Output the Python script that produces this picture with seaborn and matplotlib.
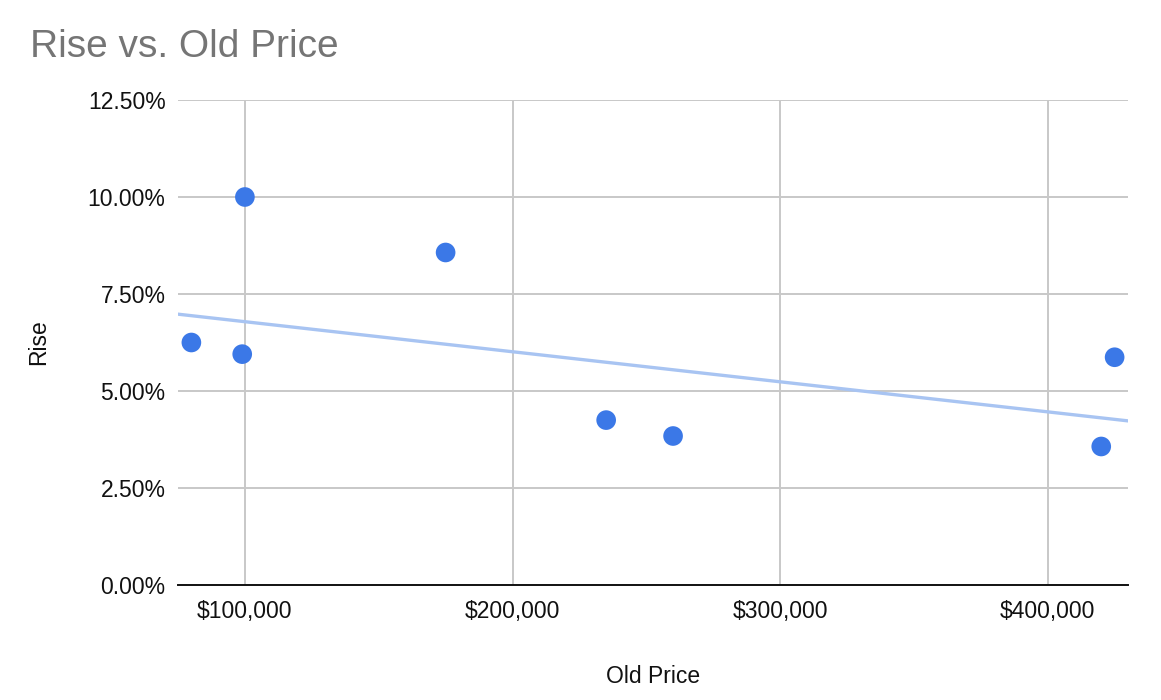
import seaborn as sns
import matplotlib.pyplot as plt
import matplotlib.ticker as mticker
import pandas as pd

# Datos
old_price = [80000, 100000, 99000, 175000, 235000, 260000, 420000, 425000]
rise = [6.25, 10.0, 5.95, 8.57, 4.25, 3.84, 3.57, 5.87]

# linea de tendencia (extremos)
trend_price = [75000, 430000]
trend_rise = [6.98, 4.23]

x_ticks = [100000, 200000, 300000, 400000]
y_ticks = [0, 2.5, 5.0, 7.5, 10.0, 12.5]

df = pd.DataFrame({'Old Price': old_price, 'Rise': rise})
trend = pd.DataFrame({'Old Price': trend_price, 'Rise': trend_rise})

sns.set_style('white')
plt.rcParams['font.family'] = ['Liberation Sans', 'DejaVu Sans']

fig = plt.figure(figsize=(11.61, 7.0), dpi=100)
ax = fig.add_axes([178 / 1161, 1 - 585 / 700, (1128 - 178) / 1161, (585 - 100) / 700])

sns.lineplot(x='Old Price', y='Rise', data=trend, ax=ax, color='#a8c4f2', linewidth=2.4, zorder=2)
sns.scatterplot(x='Old Price', y='Rise', data=df, ax=ax, color='#3b78e7', s=200,
                edgecolor='none', zorder=3)

ax.set_xlim(75000, 430000)
ax.set_ylim(0, 12.5)
ax.set_xticks(x_ticks)
ax.set_yticks(y_ticks)
ax.xaxis.set_major_formatter(mticker.FuncFormatter(lambda v, p: f"${v:,.0f}"))
ax.yaxis.set_major_formatter(mticker.FuncFormatter(lambda v, p: f"{v:.2f}%"))
ax.tick_params(axis='both', length=0, labelsize=16.5, labelcolor='#111111')
ax.tick_params(axis='x', pad=11)
ax.tick_params(axis='y', pad=9)

ax.grid(True, color='#c8c8c8', linewidth=1.4)
ax.set_axisbelow(True)
for side in ['left', 'right', 'top']:
    ax.spines[side].set_visible(False)
ax.spines['bottom'].set_color('#111111')
ax.spines['bottom'].set_linewidth(1.4)
ax.spines['bottom'].set_zorder(4)

ax.set_xlabel('Old Price', fontsize=16.5, color='#111111', labelpad=30)
ax.set_ylabel('Rise', fontsize=16.5, color='#111111', labelpad=27)
fig.text(30 / 1161, 1 - 47 / 700, 'Rise vs. Old Price', fontsize=28, color='#757575',
         ha='left', va='center')

plt.savefig('out.png', dpi=100)
